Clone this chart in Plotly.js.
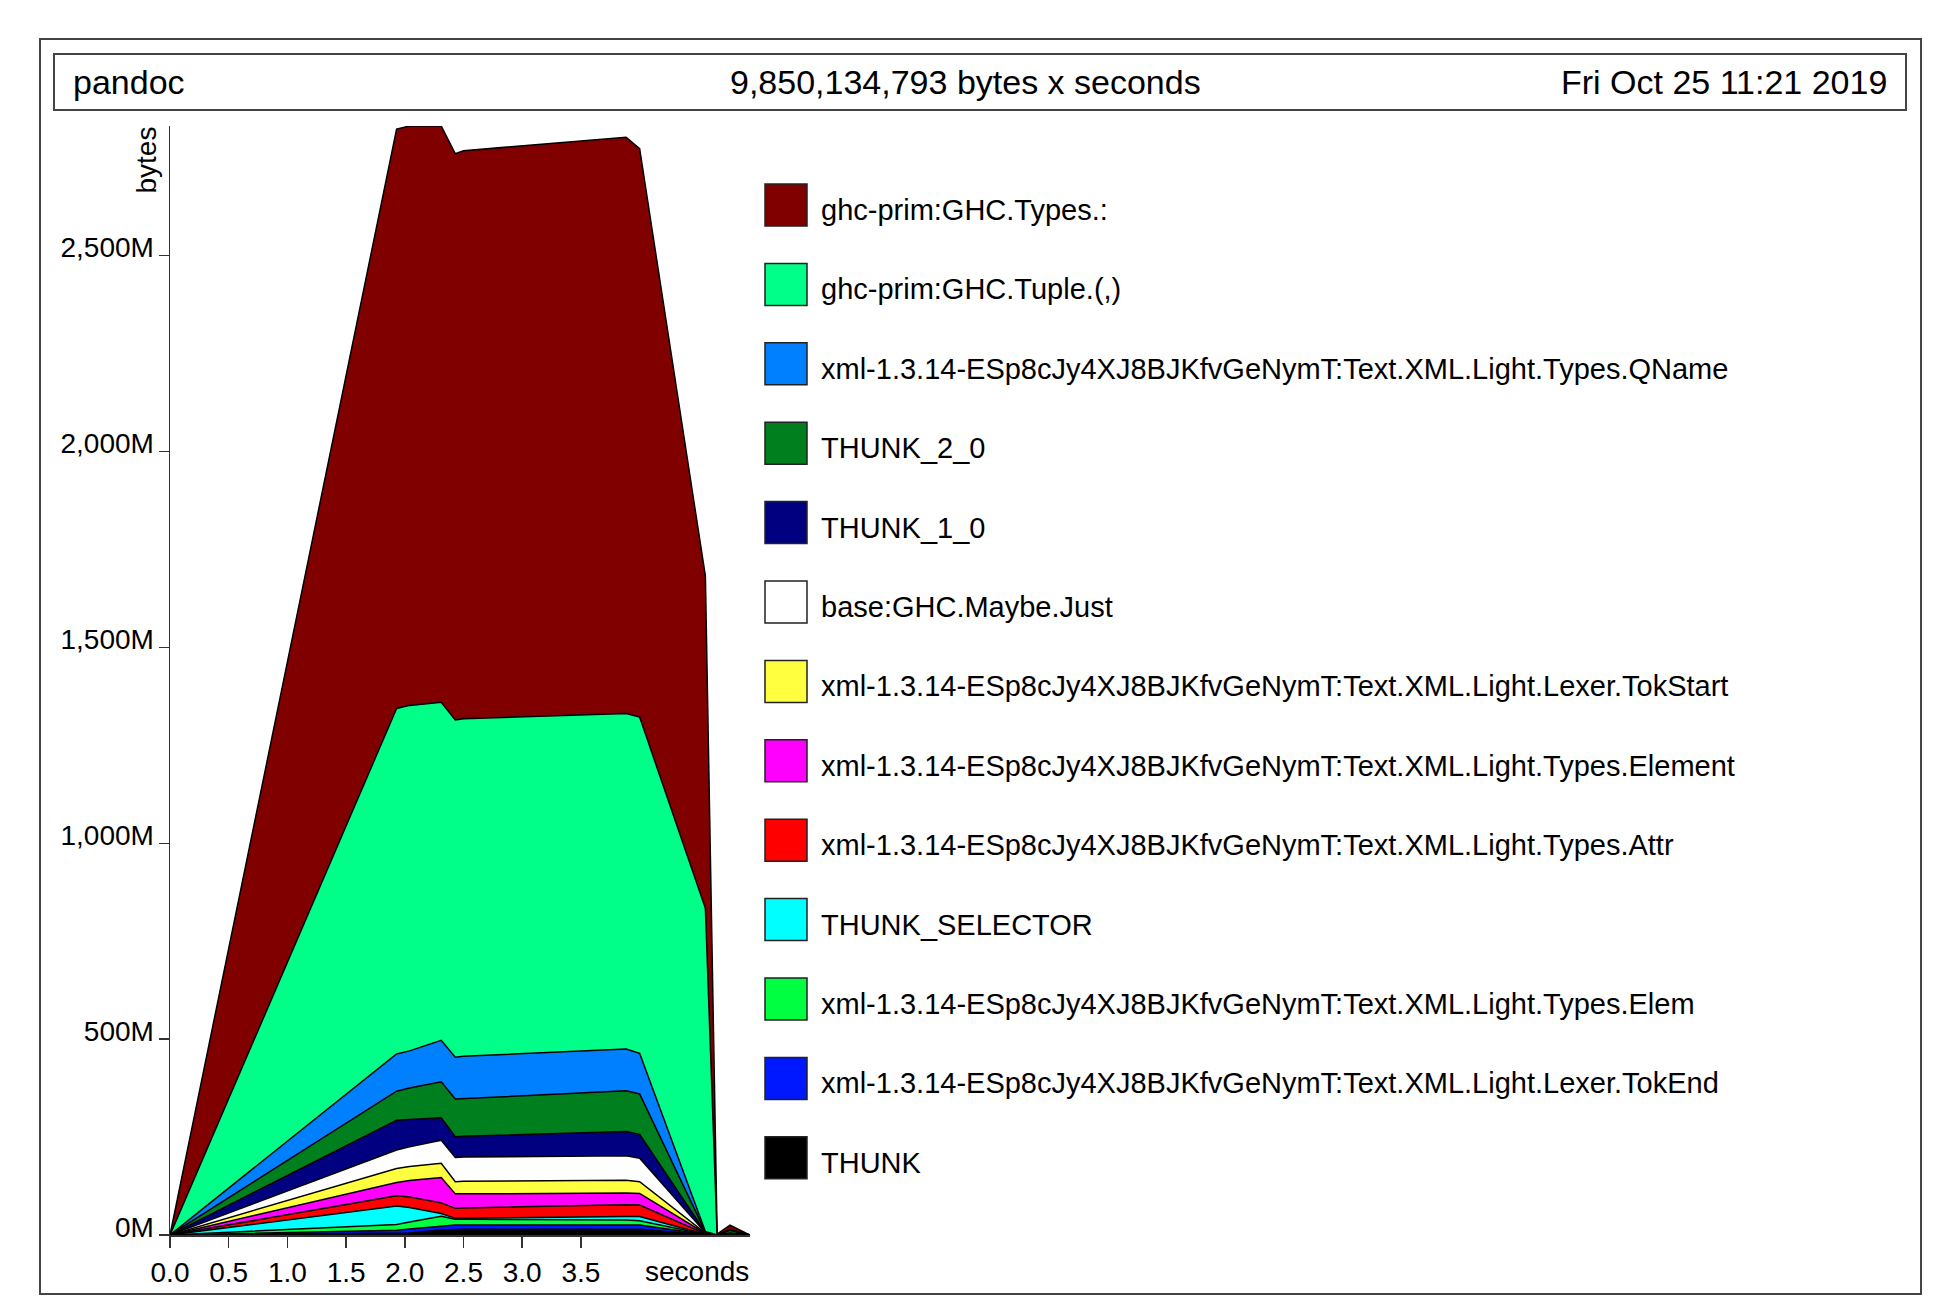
<!DOCTYPE html>
<html>
<head>
<meta charset="utf-8">
<script src="https://cdn.plot.ly/plotly-3.0.1.min.js"></script>
<style>
  html, body { margin: 0; padding: 0; background: #fff; }
  #chart { width: 1956px; height: 1316px; }
</style>
</head>
<body>
<div id="chart"></div>
<script>
// heap profile samples (seconds), values in MB
const times = [0, 1.93, 2.04, 2.31, 2.43, 2.50, 3.885, 4.00, 4.56, 4.66, 4.77, 4.94];

const thunk      = [0, 3, 5, 13, 14.5, 14.5, 14.5, 14.5, 0.5, 0, 1, 0];
const tokEnd     = [0, 9, 10, 10, 11, 11, 11.5, 11, 0.5, 0, 0.5, 0];
const elem       = [0, 15, 18, 25, 14.5, 14.5, 12, 11, 0.5, 0, 0.5, 0];
const selector   = [0, 47, 37, 7, 2.5, 3, 9, 10.5, 0.5, 0, 0.5, 0];
const attr       = [0, 26, 27, 27, 25.5, 26, 30, 29.5, 1, 0, 0.5, 0];
const element    = [0, 34, 42, 65, 37, 36, 30, 29.5, 1, 0, 0.5, 0];
const tokStart   = [0, 36, 36, 36, 31, 32, 33, 30, 1, 0, 0.5, 0];
const maybeJust  = [0, 47, 50, 59, 62, 62, 62, 60, 1, 0, 0.5, 0];
const thunk10    = [0, 76, 70, 57, 53, 53, 62, 61, 1, 0, 0.5, 0];
const thunk20    = [0, 74, 80, 92, 96, 96, 104, 103, 1, 0, 7, 0];
const qname      = [0, 95, 95, 106, 107, 108, 107, 104, 1, 0, 1, 0];
const tuple      = [0, 882, 882, 863, 861, 862, 856, 858, 825, 0, 1, 0];
const cons       = [0, 1479, 1479, 1471, 1445, 1450, 1471, 1451, 848, 2, 11, 0];

// stacking order, bottom first
const names = [
  "THUNK",
  "xml-1.3.14-ESp8cJy4XJ8BJKfvGeNymT:Text.XML.Light.Lexer.TokEnd",
  "xml-1.3.14-ESp8cJy4XJ8BJKfvGeNymT:Text.XML.Light.Types.Elem",
  "THUNK_SELECTOR",
  "xml-1.3.14-ESp8cJy4XJ8BJKfvGeNymT:Text.XML.Light.Types.Attr",
  "xml-1.3.14-ESp8cJy4XJ8BJKfvGeNymT:Text.XML.Light.Types.Element",
  "xml-1.3.14-ESp8cJy4XJ8BJKfvGeNymT:Text.XML.Light.Lexer.TokStart",
  "base:GHC.Maybe.Just",
  "THUNK_1_0",
  "THUNK_2_0",
  "xml-1.3.14-ESp8cJy4XJ8BJKfvGeNymT:Text.XML.Light.Types.QName",
  "ghc-prim:GHC.Tuple.(,)",
  "ghc-prim:GHC.Types.:"
];
const series = [thunk, tokEnd, elem, selector, attr, element, tokStart,
                maybeJust, thunk10, thunk20, qname, tuple, cons];
const colors = ["#000000", "#0018ff", "#00ff40", "#00ffff", "#ff0000", "#ff00ff",
                "#ffff40", "#ffffff", "#000080", "#007f1f", "#0080ff", "#00ff88", "#800000"];

const xTicks = [0, 0.5, 1, 1.5, 2, 2.5, 3, 3.5];
const xTickText = ["0.0", "0.5", "1.0", "1.5", "2.0", "2.5", "3.0", "3.5"];
const yTicks = [0, 500, 1000, 1500, 2000, 2500];
const yTickText = ["0M", "500M", "1,000M", "1,500M", "2,000M", "2,500M"];

const W = 1956, H = 1316;
const px = x => x / W;
const py = y => 1 - y / H;
const FONT = "Liberation Sans, Arial, Helvetica, sans-serif";

let traces = series.map((s, i) => ({
  x: times,
  y: s,
  name: names[i],
  type: "scatter",
  mode: "lines",
  stackgroup: "one",
  fillcolor: colors[i],
  line: {color: "#000", width: 1.5},
  hoverinfo: "skip"
}));

let shapes = [
  {type: "rect", xref: "paper", yref: "paper", x0: px(40), x1: px(1921), y0: py(39), y1: py(1294),
   line: {color: "#444", width: 2}},
  {type: "rect", xref: "paper", yref: "paper", x0: px(54), x1: px(1906), y0: py(54), y1: py(110),
   line: {color: "#444", width: 2}}
];

let annotations = [
  {text: "pandoc", x: px(71), y: py(82), xanchor: "left", yanchor: "middle"},
  {text: "9,850,134,793 bytes x seconds", x: px(965), y: py(82), xanchor: "center", yanchor: "middle"},
  {text: "Fri Oct 25 11:21 2019", x: px(1889), y: py(82), xanchor: "right", yanchor: "middle"},
  {text: "seconds", x: px(751), y: py(1271), xanchor: "right", yanchor: "middle", font: {size: 28}},
  {text: "bytes", x: px(146), y: py(125), xanchor: "center", yanchor: "top", textangle: -90, font: {size: 28}}
].map(a => Object.assign({xref: "paper", yref: "paper", showarrow: false,
  font: {size: 34}}, a));

// key on the right, top of stack first
for (let k = 0; k < names.length; k++) {
  let i = names.length - 1 - k;
  let top = 184 + 79.4 * k;
  shapes.push({type: "rect", xref: "paper", yref: "paper",
    x0: px(765), x1: px(807), y0: py(top), y1: py(top + 42),
    fillcolor: colors[i], line: {color: "#222", width: 1.5}});
  annotations.push({text: names[i], xref: "paper", yref: "paper", showarrow: false,
    x: px(819), y: py(top + 26), xanchor: "left", yanchor: "middle",
    font: {size: 29}});
}

let layout = {
  width: W,
  height: H,
  margin: {l: 0, r: 0, t: 0, b: 0},
  paper_bgcolor: "#fff",
  plot_bgcolor: "#fff",
  showlegend: false,
  font: {family: FONT, color: "#000", size: 28},
  xaxis: {
    domain: [px(170), px(750)],
    range: [0, 4.94],
    tickvals: xTicks,
    ticktext: xTickText,
    ticks: "outside",
    ticklen: 11,
    tickwidth: 1.5,
    tickcolor: "#333",
    ticklabelstandoff: 1,
    showline: true,
    linecolor: "#333",
    linewidth: 1.5,
    showgrid: false,
    zeroline: false,
    tickfont: {size: 28}
  },
  yaxis: {
    domain: [py(1235), py(126)],
    range: [0, 2831],
    tickvals: yTicks,
    ticktext: yTickText,
    ticks: "outside",
    ticklen: 10,
    tickwidth: 1.5,
    tickcolor: "#333",
    ticklabelstandoff: -1,
    ticklabelshift: -8,
    showline: true,
    linecolor: "#333",
    linewidth: 1.5,
    showgrid: false,
    zeroline: false,
    tickfont: {size: 28}
  },
  shapes: shapes,
  annotations: annotations
};

Plotly.newPlot("chart", traces, layout, {staticPlot: true});
</script>
</body>
</html>
